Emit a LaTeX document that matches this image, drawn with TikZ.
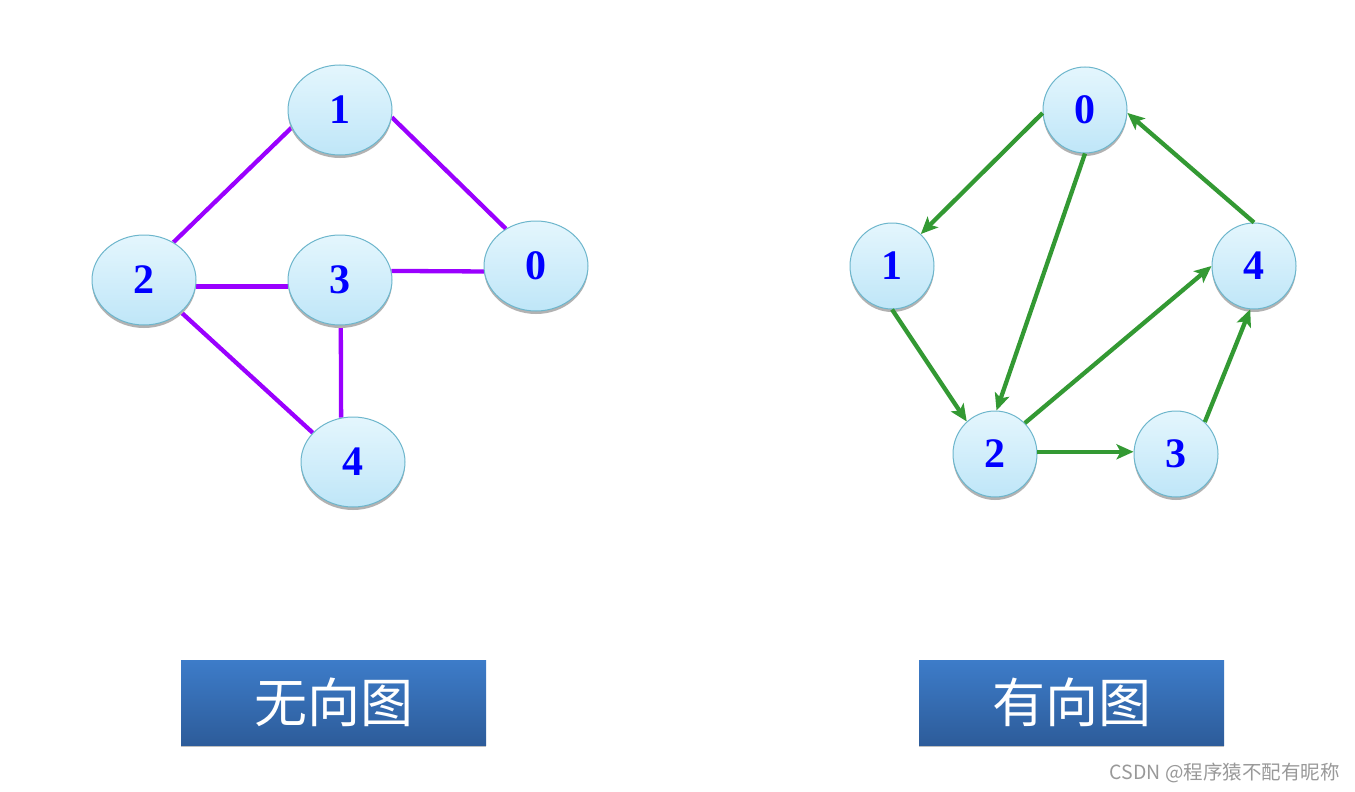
\documentclass[tikz,border=0pt]{standalone}
\usepackage{fontspec}
\setmainfont{Liberation Serif}
\newfontfamily\cjk{Noto Sans CJK SC}
\usetikzlibrary{arrows.meta,shadows,shapes.geometric,backgrounds}
\definecolor{nodeborder}{HTML}{6DB6CC}
\definecolor{nodetop}{HTML}{E4F6FD}
\definecolor{nodebot}{HTML}{BFE6F8}
\definecolor{upurple}{HTML}{9A00FF}
\definecolor{dgreen}{HTML}{339933}
\definecolor{boxtop}{HTML}{3D7CC9}
\definecolor{boxbot}{HTML}{2D5C9A}
\begin{document}
\begin{tikzpicture}[x=1pt,y=-1pt,
  gnode/.style={ellipse, draw=nodeborder, line width=1pt, top color=nodetop, bottom color=nodebot,
    text=blue, inner sep=0pt, font=\bfseries\fontsize{42}{42}\selectfont,
    drop shadow={shadow xshift=0pt, shadow yshift=-3pt, fill=gray!60, opacity=1}},
  unode/.style={gnode, minimum width=104pt, minimum height=90pt},
  dnode/.style={gnode, minimum width=84pt, minimum height=86pt},
  uedge/.style={draw=upurple, line width=4.3pt},
  dedge/.style={draw=dgreen, line width=4.3pt, -{Stealth[length=17pt,width=15pt,inset=4pt]}},
  lbox/.style={rectangle, minimum width=305pt, minimum height=85pt, inner sep=0pt,
    top color=boxtop, bottom color=boxbot, text=white, font=\cjk\fontsize{53}{53}\selectfont,
    drop shadow={shadow xshift=0pt, shadow yshift=-2pt, fill=gray!50, opacity=1}}
]
\begin{pgfonlayer}{background}
\fill[white] (0,0) rectangle (1355,792);
\end{pgfonlayer}
\useasboundingbox (0,0) rectangle (1355,792);
% undirected graph
\node[unode] (u1) at (340,110) {1};
\node[unode] (u2) at (144,280) {2};
\node[unode] (u3) at (340,280) {3};
\node[unode] (u0) at (536,266) {0};
\node[unode] (u4) at (353,462) {4};
% directed graph
\node[dnode] (d0) at (1085,110) {0};
\node[dnode] (d1) at (892,266) {1};
\node[dnode] (d4) at (1254,266) {4};
\node[dnode] (d2) at (995,454) {2};
\node[dnode] (d3) at (1176,454) {3};
\begin{pgfonlayer}{background}
\draw[uedge] (u1.200) -- (u2.52);
\draw[uedge] (u1.352) -- (u0.129);
\draw[uedge] (u2.353) -- (u3.187);
\draw[uedge] (u3.10) -- (u0.186);
\draw[uedge] (u2.319) -- (u4.144);
\draw[uedge] (u3.271) -- (u4.105);
\end{pgfonlayer}
\draw[dedge] (d0.184) -- (d1.48);
\draw[dedge] (d0.270) -- (d2.88);
\draw[dedge] (d1.270) -- (d2.131);
\draw[dedge] (d2.46) -- (d4.180);
\draw[dedge] (d2.3) -- (d3.177);
\draw[dedge] (d3.48) -- (d4.265);
\draw[dedge] (d4.90) -- (d0.356);
% labels
\node[lbox] (lu) at (333.5,702.5) {无向图};
\node[lbox] (ld) at (1071.5,702.5) {有向图};
\node[anchor=east, text=gray!80, font=\cjk\fontsize{19.5}{19.5}\selectfont, inner sep=0pt] (wm) at (1340,773) {CSDN @程序猿不配有昵称};
\end{tikzpicture}
\end{document}
